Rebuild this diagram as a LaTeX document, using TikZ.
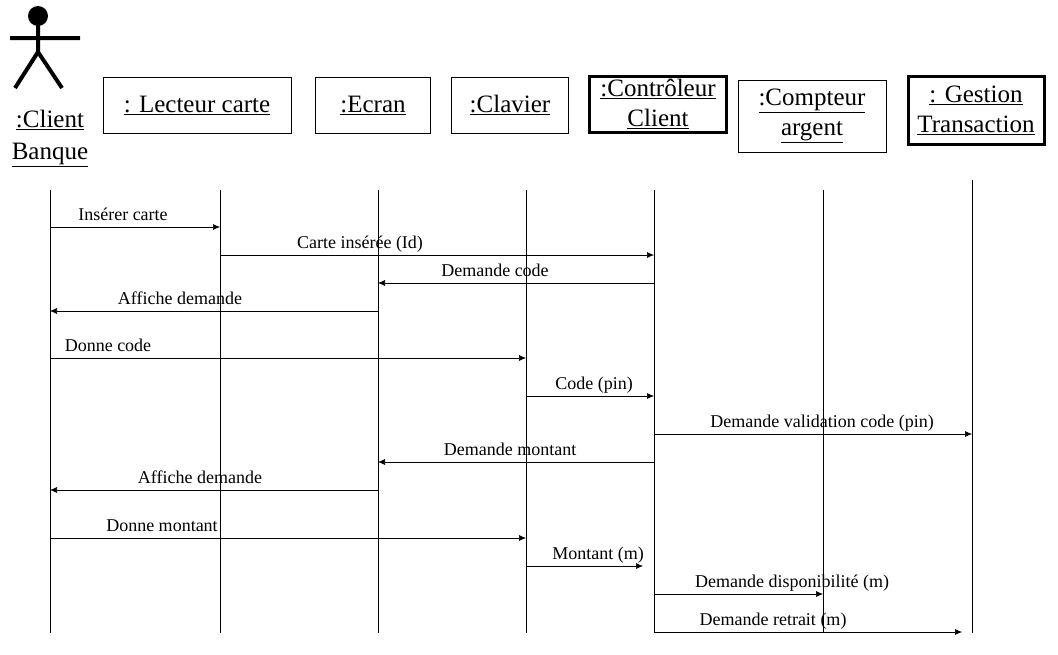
\documentclass[tikz,border=0pt]{standalone}
\usepackage{fontspec}
\setmainfont{Liberation Serif}
\usetikzlibrary{arrows.meta}
\begin{document}
\begin{tikzpicture}[x=1pt,y=-1pt,
 obj/.style={draw,line width=0.8pt,align=center,inner sep=0pt,font=\fontsize{25}{30}\selectfont},
 thk/.style={line width=3pt},
 life/.style={line width=0.6pt},
 msg/.style={line width=0.6pt,-{Latex[length=7pt,width=6pt]}},
 lbl/.style={font=\fontsize{18}{20}\selectfont,inner sep=0pt}]
\useasboundingbox (0,0) rectangle (1058,654);
% actor
\fill (38,16) circle (10);
\draw[line width=4pt] (38,22) -- (38,52) (10,38) -- (80,38) (38,52) -- (15,88) (38,52) -- (62,88);
\node[font=\fontsize{25}{28}\selectfont] (act1) at (50,120) {\underline{:Client}};
\node[font=\fontsize{25}{28}\selectfont] (act2) at (50,155) {\underline{Banque}};
% objects
\node[obj,minimum width=188,minimum height=56] (lec) at (197,105) {\underline{: Lecteur carte}};
\node[obj,minimum width=115,minimum height=56] (ecr) at (373,105) {\underline{:Ecran}};
\node[obj,minimum width=117,minimum height=56] (cla) at (510,105) {\underline{:Clavier}};
\node[obj,thk,minimum width=137,minimum height=56] (con) at (658,104) {\underline{:Contrôleur}\\\underline{Client}};
\node[obj,minimum width=148,minimum height=72] (cpt) at (812,116) {\underline{:Compteur}\\\underline{argent}};
\node[obj,thk,minimum width=136,minimum height=68] (ges) at (976,110) {\underline{: Gestion}\\\underline{Transaction}};
% lifelines
\foreach \n/\x/\t in {a/50/190,b/220/190,c/378/190,d/526/190,e/654/190,f/823/190,g/972/180}{
 \coordinate (\n0) at (\x,\t); \coordinate (\n1) at (\x,633);
 \draw[life] (\n0) -- (\n1);}
% messages
\newcommand\msgto[6]{\coordinate (s#6) at (#1,#3); \coordinate (t#6) at (#2,#3);
 \draw[msg] (s#6) -- (t#6); \node[lbl,anchor=base] at (#4,#3-7) {#5};}
\msgto{50}{220}{227}{123}{Insérer carte}{1}
\msgto{220}{654}{255}{360}{Carte insérée (Id)}{2}
\msgto{654}{378}{283}{495}{Demande code}{3}
\msgto{378}{50}{311}{180}{Affiche demande}{4}
\msgto{50}{526}{358}{108}{Donne code}{5}
\msgto{526}{654}{396}{594}{Code (pin)}{6}
\msgto{654}{972}{434}{822}{Demande validation code (pin)}{7}
\msgto{654}{378}{462}{510}{Demande montant}{8}
\msgto{378}{50}{490}{200}{Affiche demande}{9}
\msgto{50}{526}{538}{162}{Donne montant}{10}
\msgto{526}{643}{566}{598}{Montant (m)}{11}
\msgto{654}{823}{594}{792}{Demande disponibilité (m)}{12}
\msgto{654}{962}{632}{773}{Demande retrait (m)}{13}
\end{tikzpicture}
\end{document}
